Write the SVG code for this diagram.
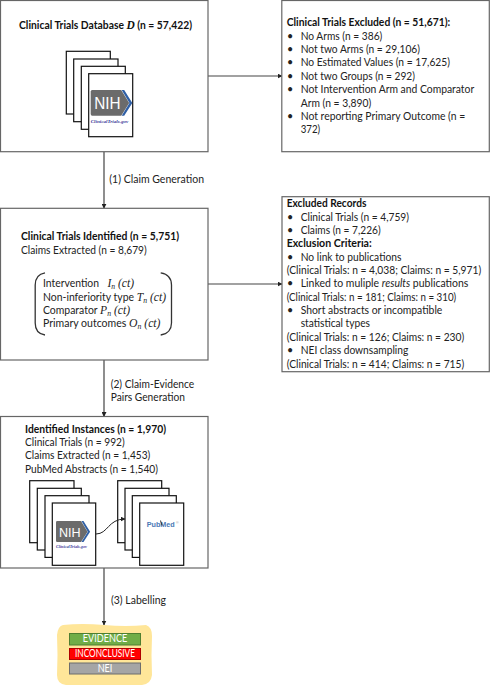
<svg xmlns="http://www.w3.org/2000/svg" width="490" height="685" viewBox="0 0 490 685">
<style>
text{font-family:"Lato","Open Sans",sans-serif;font-size:10.8px;fill:#222}
.b{font-weight:700;fill:#111}
.m{font-family:"Liberation Serif",serif;font-style:italic;font-size:12px}
.s{font-family:"Liberation Serif",serif;font-style:italic;font-size:8px}
.box{fill:#fff;stroke:#666;stroke-width:1.2}
.page{fill:#fff;stroke:#111;stroke-width:1.2}
.conn{fill:none;stroke:#444;stroke-width:1.2;marker-end:url(#a)}
.lab{fill:#fff;font-size:10.5px}
.nih{fill:#fff;font-family:"Liberation Sans",sans-serif;font-size:15.8px}
.ct{fill:#3a3a9a;font-family:"Liberation Serif",serif;font-style:italic;font-weight:700;font-size:5px}
</style>
<defs>
<marker id="a" markerWidth="5" markerHeight="5" refX="4.500" refY="2.500" orient="auto" markerUnits="userSpaceOnUse"><path d="M0 0L5 2.500L0 5Z" fill="#222"/></marker>
<g id="nihlogo">
<path d="M1.500 0H30.500L38.500 13L30.500 25.700H1.500Q0 25.700 0 24V1.500Q0 0 1.500 0Z" fill="#6b6b6b"/>
<path d="M31 0H33.500L41.600 13L33.500 25.700H31L38.800 13Z" fill="#2f5fa5"/>
<text class="nih" x="3.600" y="19" textLength="26.400" lengthAdjust="spacingAndGlyphs">NIH</text>
<text class="ct" x="0" y="33.300" textLength="37.600" lengthAdjust="spacingAndGlyphs">ClinicalTrials.gov</text>
</g>
</defs>
<g id="connectors">
<path class="conn" d="M208 76H282"/>
<path class="conn" d="M104 151.700V208.300"/>
<path class="conn" d="M208 284H282"/>
<path class="conn" d="M104 360V416.500"/>
<path class="conn" d="M104 568V625"/>
</g>
<g id="database">
<rect class="box" x="0.500" y="0.500" width="207.500" height="151.200"/>
<text class="b" x="19" y="29" textLength="173" lengthAdjust="spacingAndGlyphs">Clinical Trials Database <tspan class="m" font-weight="700" style="font-weight:700">D</tspan> (n = 57,422)</text>
<rect class="page" x="66.300" y="51.300" width="44" height="62.700"/>
<rect class="page" x="73.700" y="59" width="44.300" height="62.700"/>
<rect class="page" x="81.300" y="66.300" width="44" height="63"/>
<rect class="page" x="88.700" y="73.700" width="44" height="63"/>
<use href="#nihlogo" transform="translate(90.700,90)"/>
</g>
<g id="excluded">
<rect class="box" x="281.800" y="0.500" width="207.500" height="151.200"/>
<text class="b" x="286.700" y="26.300" textLength="163.500" lengthAdjust="spacingAndGlyphs">Clinical Trials Excluded (n = 51,671):</text>
<text x="287" y="39.700">•</text><text x="300.700" y="39.700" textLength="81.600" lengthAdjust="spacingAndGlyphs">No Arms (n = 386)</text>
<text x="287" y="53">•</text><text x="300.700" y="53" textLength="119.300" lengthAdjust="spacingAndGlyphs">Not two Arms (n = 29,106)</text>
<text x="287" y="66.400">•</text><text x="300.700" y="66.400" textLength="149.300" lengthAdjust="spacingAndGlyphs">No Estimated Values (n = 17,625)</text>
<text x="287" y="79.800">•</text><text x="300.700" y="79.800" textLength="114.300" lengthAdjust="spacingAndGlyphs">Not two Groups (n = 292)</text>
<text x="287" y="93.200">•</text><text x="300.700" y="93.200" textLength="173.500" lengthAdjust="spacingAndGlyphs">Not Intervention Arm and Comparator</text>
<text x="300.700" y="106.600" textLength="70.500" lengthAdjust="spacingAndGlyphs">Arm (n = 3,890)</text>
<text x="287" y="120">•</text><text x="300.700" y="120" textLength="164.500" lengthAdjust="spacingAndGlyphs">Not reporting Primary Outcome (n =</text>
<text x="300.700" y="133.400" textLength="19.500" lengthAdjust="spacingAndGlyphs">372)</text>
</g>
<g id="step1"><text x="109.300" y="183.300" textLength="94.700" lengthAdjust="spacingAndGlyphs">(1)  Claim Generation</text></g>
<g id="identified">
<rect class="box" x="0.500" y="208.300" width="207.500" height="151.700"/>
<text class="b" x="21" y="240.300" textLength="158" lengthAdjust="spacingAndGlyphs">Clinical Trials Identified (n = 5,751)</text>
<text x="21" y="253.700" textLength="125.700" lengthAdjust="spacingAndGlyphs">Claims Extracted (n = 8,679)</text>
<path d="M45 272.800C38 274 35.200 279 35.200 285V323C35.200 329 38 334 45 335" fill="none" stroke="#333" stroke-width="1.300"/>
<path d="M160.700 272.800C168 274 171.500 279 171.500 285V323C171.500 329 168 334 160.700 335" fill="none" stroke="#333" stroke-width="1.300"/>
<text x="43" y="287.300" textLength="91" lengthAdjust="spacingAndGlyphs">Intervention <tspan class="m" dx="6">I</tspan><tspan class="s" dy="2">n</tspan><tspan class="m" dy="-2" dx="3">(ct)</tspan></text>
<text x="43" y="300.700" textLength="123" lengthAdjust="spacingAndGlyphs">Non-inferiority type <tspan class="m">T</tspan><tspan class="s" dy="2">n</tspan><tspan class="m" dy="-2" dx="3">(ct)</tspan></text>
<text x="43" y="314" textLength="87" lengthAdjust="spacingAndGlyphs">Comparator <tspan class="m">P</tspan><tspan class="s" dy="2">n</tspan><tspan class="m" dy="-2" dx="3">(ct)</tspan></text>
<text x="43" y="327.300" textLength="117.500" lengthAdjust="spacingAndGlyphs">Primary outcomes <tspan class="m">O</tspan><tspan class="s" dy="2">n</tspan><tspan class="m" dy="-2" dx="3">(ct)</tspan></text>
</g>
<g id="records">
<rect class="box" x="282" y="196.700" width="207.300" height="175"/>
<text class="b" x="286.700" y="207.300" textLength="79.700" lengthAdjust="spacingAndGlyphs">Excluded Records</text>
<text x="287" y="220.700">•</text><text x="300.700" y="220.700" textLength="108.300" lengthAdjust="spacingAndGlyphs">Clinical Trials (n = 4,759)</text>
<text x="287" y="234">•</text><text x="300.700" y="234" textLength="80" lengthAdjust="spacingAndGlyphs">Claims (n = 7,226)</text>
<text class="b" x="286.700" y="247.300" textLength="85" lengthAdjust="spacingAndGlyphs">Exclusion Criteria:</text>
<text x="287" y="260.700">•</text><text x="300.700" y="260.700" textLength="100.700" lengthAdjust="spacingAndGlyphs">No link to publications</text>
<text x="286.700" y="274" textLength="194.500" lengthAdjust="spacingAndGlyphs">(Clinical Trials: n = 4,038; Claims: n = 5,971)</text>
<text x="287" y="287.300">•</text><text x="300.700" y="287.300" textLength="167.600" lengthAdjust="spacingAndGlyphs">Linked to muliple <tspan font-style="italic" style="font-style:italic">results</tspan> publications</text>
<text x="286.700" y="300.700" textLength="169.500" lengthAdjust="spacingAndGlyphs">(Clinical Trials: n = 181; Claims: n = 310)</text>
<text x="287" y="314">•</text><text x="300.700" y="314" textLength="141.600" lengthAdjust="spacingAndGlyphs">Short abstracts or incompatible</text>
<text x="300.700" y="327.300" textLength="69.300" lengthAdjust="spacingAndGlyphs">statistical types</text>
<text x="286.700" y="340.700" textLength="177.500" lengthAdjust="spacingAndGlyphs">(Clinical Trials: n = 126; Claims: n = 230)</text>
<text x="287" y="354">•</text><text x="300.700" y="354" textLength="107.600" lengthAdjust="spacingAndGlyphs">NEI class downsampling</text>
<text x="286.700" y="368.300" textLength="177.500" lengthAdjust="spacingAndGlyphs">(Clinical Trials: n = 414; Claims: n = 715)</text>
</g>
<g id="step2"><text x="110.700" y="387.700" textLength="83.600" lengthAdjust="spacingAndGlyphs">(2) Claim-Evidence</text><text x="110.700" y="401" textLength="74.300" lengthAdjust="spacingAndGlyphs">Pairs Generation</text></g>
<g id="instances">
<rect class="box" x="0.500" y="416.500" width="207.500" height="151.500"/>
<text class="b" x="25" y="432.700" textLength="141" lengthAdjust="spacingAndGlyphs">Identified Instances (n = 1,970)</text>
<text x="25" y="446" textLength="99.700" lengthAdjust="spacingAndGlyphs">Clinical Trials (n = 992)</text>
<text x="25" y="459.300" textLength="125.300" lengthAdjust="spacingAndGlyphs">Claims Extracted (n = 1,453)</text>
<text x="25" y="472.700" textLength="133" lengthAdjust="spacingAndGlyphs">PubMed Abstracts (n = 1,540)</text>
<rect class="page" x="29.700" y="480.700" width="44.300" height="62"/>
<rect class="page" x="37.300" y="488.300" width="44" height="61.700"/>
<rect class="page" x="45" y="495.700" width="44" height="61.700"/>
<rect class="page" x="52.300" y="503" width="43.400" height="62.300"/>
<use href="#nihlogo" transform="translate(56,521) scale(.82)"/>
<rect class="page" x="117.700" y="480.700" width="44" height="62"/>
<rect class="page" x="125" y="488.300" width="44" height="61.700"/>
<rect class="page" x="132.300" y="495.700" width="44" height="61.700"/>
<rect class="page" x="139.700" y="503" width="44" height="62.300"/>
<text x="146.700" y="527" textLength="28" lengthAdjust="spacingAndGlyphs" style="font-family:'Liberation Sans',sans-serif;font-size:7.500px;fill:#4a78b5;font-weight:700">PubMed</text>
<text x="176" y="524" style="font-family:'Liberation Sans',sans-serif;font-size:3.500px;fill:#999">®</text>
<path d="M160 520.500L161.500 525.500L162.500 525.500L161 520.500Z" fill="#333"/>
<path d="M96 534C108 534 108 519 125 519" fill="none" stroke="#222" stroke-width="1" marker-end="url(#a)"/>
</g>
<g id="step3"><text x="111" y="604" textLength="55" lengthAdjust="spacingAndGlyphs">(3) Labelling</text></g>
<g id="labels">
<path d="M63 625Q82 623 104 625T146 625Q152 627 152 636Q151 655 152 675Q151 684 142 685H66Q57 684 57 675Q58 655 57 635Q58 626 63 625Z" fill="#ffe699"/>
<rect x="69.500" y="633.500" width="71" height="11.500" fill="#70ad47" stroke="#4f7f30"/>
<text class="lab" x="82.700" y="642.300" textLength="44.700" lengthAdjust="spacingAndGlyphs">EVIDENCE</text>
<rect x="69.500" y="648.500" width="71" height="11" fill="#f00" stroke="#b00000"/>
<text class="lab" x="75" y="656.700" textLength="60" lengthAdjust="spacingAndGlyphs">INCONCLUSIVE</text>
<rect x="69.500" y="663" width="71" height="11" fill="#a5a5a5" stroke="#6d6d6d"/>
<text class="lab" x="97.700" y="671.700" textLength="14.700" lengthAdjust="spacingAndGlyphs">NEI</text>
</g>
</svg>
